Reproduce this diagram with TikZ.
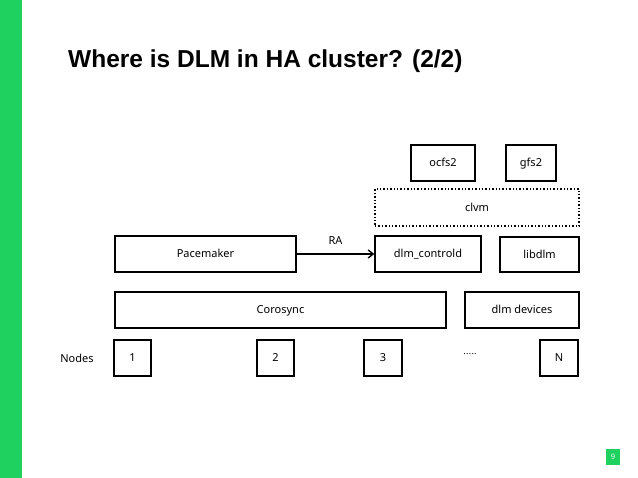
\documentclass[tikz,border=0pt]{standalone}
\usepackage{fontspec}
\setmainfont{Liberation Sans}
\newfontfamily\labfont{Noto Sans}
\usetikzlibrary{arrows.meta}
\definecolor{brandgreen}{HTML}{1FD15E}
\begin{document}
\begin{tikzpicture}[x=1pt,y=-1pt,
  box/.style={draw=black,line width=1.4pt,inner sep=0pt,text height=9pt,text depth=1pt,font=\labfont\fontsize{11}{13}\selectfont},
  dotbox/.style={box,dotted},
  lab/.style={inner sep=0pt,font=\labfont\fontsize{11}{13}\selectfont}]
\useasboundingbox (0,0) rectangle (638,478);
\fill[white] (0,0) rectangle (638,478);
\fill[brandgreen] (0,0) rectangle (22,478);
\node[anchor=base west,inner sep=0pt,font=\bfseries\fontsize{24.5}{28}\selectfont] (title) at (68,68) {Where is DLM in HA cluster? (2/2)};
% top row
\node[box,minimum width=64pt,minimum height=36pt] (ocfs) at (443,163) {ocfs2};
\node[box,minimum width=50pt,minimum height=36pt] (gfs) at (531,163) {gfs2};
\node[dotbox,minimum width=204pt,minimum height=37pt] (clvm) at (477,207.5) {clvm};
\node[box,minimum width=181pt,minimum height=36pt] (pace) at (205.5,254) {Pacemaker};
\node[box,minimum width=106pt,minimum height=36pt] (dlmc) at (428,254) {dlm\_controld};
\node[box,minimum width=79pt,minimum height=35pt] (libdlm) at (539.5,254.5) {libdlm};
\draw[line width=1.4pt,-{Straight Barb[length=5pt,width=8pt]}] (pace.east) -- node[lab,above=9pt] (ra) {RA} (dlmc.west);
\node[box,minimum width=331pt,minimum height=36pt] (coro) at (280.5,310) {Corosync};
\node[box,minimum width=114pt,minimum height=36pt] (dlmdev) at (522,310) {dlm devices};
% nodes row
\node[lab] (nodes) at (77,358) {Nodes};
\node[box,minimum width=37pt,minimum height=36pt] (n1) at (132.5,358) {1};
\node[box,minimum width=37pt,minimum height=36pt] (n2) at (275.5,358) {2};
\node[box,minimum width=38pt,minimum height=36pt] (n3) at (383,358) {3};
\node[lab,font=\labfont\fontsize{9}{10}\selectfont] (dots) at (470,354) {.\kern0.3pt.\kern0.3pt.\kern0.3pt.\kern0.3pt.};
\node[box,minimum width=38pt,minimum height=36pt] (nN) at (559,358) {N};
% page number
\node[fill=brandgreen,text=white,minimum width=14pt,minimum height=16pt,inner sep=0pt,font=\labfont\bfseries\fontsize{7.5}{9}\selectfont] (page) at (613,457) {9};
\end{tikzpicture}
\end{document}
